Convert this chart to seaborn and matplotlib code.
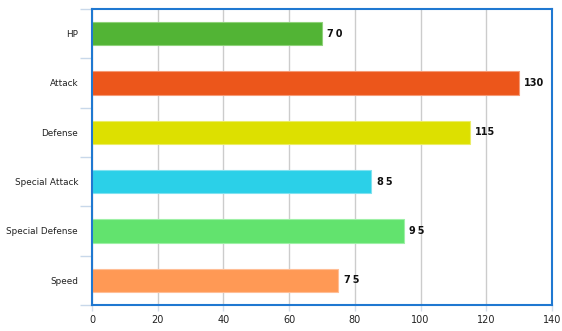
import matplotlib
matplotlib.use("Agg")
import matplotlib.pyplot as plt
import seaborn as sns
import pandas as pd
import numpy as np

categories = ["HP", "Attack", "Defense", "Special Attack", "Special Defense", "Speed"]
values = [70, 130, 115, 85, 95, 75]
colors = ["#52b435", "#ec561b", "#dde000", "#2bd0e8", "#62e36e", "#ff9955"]
edge_colors = ["#8fd27a", "#f59a76", "#ebed66", "#80e2f0", "#9ef0a6", "#ffbe96"]
xticks = [0, 20, 40, 60, 80, 100, 120, 140]

sns.set_theme(style="white")
plt.rcParams['font.family'] = ['DejaVu Sans']

df = pd.DataFrame({"stat": categories, "value": values})

fig = plt.figure(figsize=(5.62, 3.31), dpi=100)
ax = fig.add_axes([92/562, 1-305/331, (552-92)/562, (305-9)/331])

sns.barplot(data=df, x="value", y="stat", hue="stat", palette=colors, dodge=False,
            legend=False, width=0.47, ax=ax, orient="h", saturation=1)
for p, ec in zip(ax.patches, edge_colors):
    p.set_edgecolor(ec)
    p.set_linewidth(0.8)

ax.set_xlim(0, 140)
ax.set_ylim(len(categories) - 0.5, -0.5)
ax.set_xticks(xticks)
ax.set_xticklabels([str(t) for t in xticks], fontsize=7, color="#222222")
ax.set_yticks(range(len(categories)))
ax.set_yticklabels(categories, fontsize=6.4, color="#222222")
ax.set_yticks(np.arange(-0.5, len(categories), 1), minor=True)
ax.tick_params(axis="y", which="major", length=0, pad=10)
ax.tick_params(axis="y", which="minor", length=9, color="#c8d8ea", width=1, left=True)
ax.tick_params(axis="x", which="major", length=4, color="#d5dde8", width=1, bottom=True, pad=3)
ax.set_xlabel("")
ax.set_ylabel("")
ax.grid(axis="x", color="#cccccc", linewidth=1)
ax.set_axisbelow(True)
for s in ax.spines.values():
    s.set_visible(True)
    s.set_color("#1f78d1")
    s.set_linewidth(1.5)

for i, v in enumerate(values):
    ax.text(v + 1.6, i, "\u2009".join(str(v)) if v < 100 else str(v), va="center", ha="left",
            fontsize=7, fontweight="bold", color="#111111")

fig.savefig("out.png", dpi=100)
